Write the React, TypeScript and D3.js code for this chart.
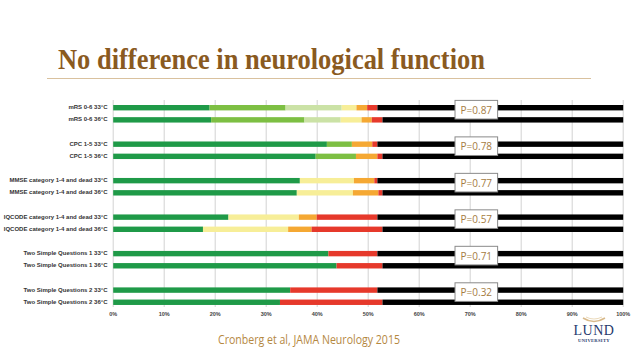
import React from "react";
import * as d3 from "d3";

const rowLabels = [
  "mRS 0-6 33°C",
  "mRS 0-6 36°C",
  "CPC 1-5 33°C",
  "CPC 1-5 36°C",
  "MMSE category 1-4 and dead 33°C",
  "MMSE category 1-4 and dead 36°C",
  "IQCODE category 1-4 and dead 33°C",
  "IQCODE category 1-4 and dead 36°C",
  "Two Simple Questions 1 33°C",
  "Two Simple Questions 1 36°C",
  "Two Simple Questions 2 33°C",
  "Two Simple Questions 2 36°C",
];

// category colour keys per row
const mrsCats = ["dg", "g", "pg", "y", "o", "r", "k"];
const cpcCats = ["dg", "g", "o", "r", "k"];
const mmseCats = ["dg", "y", "o", "r", "k"];
const iqCats = ["dg", "y", "o", "r", "k"];
const tsqCats = ["dg", "r", "k"];

// segment values (percent)
const mrs33 = [18.9, 14.9, 11.0, 2.9, 2.1, 2.0, 48.2];
const mrs36 = [19.2, 18.3, 7.1, 4.1, 2.0, 2.1, 47.2];
const cpc33 = [41.9, 4.9, 4.0, 1.0, 48.2];
const cpc36 = [39.7, 7.9, 4.2, 1.0, 47.2];
const mmse33 = [36.6, 10.6, 4.0, 0.6, 48.2];
const mmse36 = [36.0, 11.0, 5.0, 0.8, 47.2];
const iq33 = [22.6, 13.8, 3.5, 11.9, 48.2];
const iq36 = [17.6, 16.7, 4.6, 13.9, 47.2];
const tsq1_33 = [42.2, 9.6, 48.2];
const tsq1_36 = [43.8, 9.0, 47.2];
const tsq2_33 = [34.7, 17.1, 48.2];
const tsq2_36 = [32.7, 20.1, 47.2];

const rowValues = [mrs33, mrs36, cpc33, cpc36, mmse33, mmse36, iq33, iq36, tsq1_33, tsq1_36, tsq2_33, tsq2_36];
const rowCats = [mrsCats, mrsCats, cpcCats, cpcCats, mmseCats, mmseCats, iqCats, iqCats, tsqCats, tsqCats, tsqCats, tsqCats];

const pValues = ["P=0.87", "P=0.78", "P=0.77", "P=0.57", "P=0.71", "P=0.32"];
const xTicks = [0, 10, 20, 30, 40, 50, 60, 70, 80, 90, 100];

const colors: Record<string, string> = {
  dg: "#1f9a48",
  g: "#7dbf43",
  pg: "#cbe2a6",
  y: "#f7ee98",
  o: "#f5a833",
  r: "#e6392b",
  k: "#000000",
};

export default function App() {
  const W = 638;
  const H = 359;
  const x = d3.scaleLinear().domain([0, 100]).range([113.2, 623.2]);
  const y = d3.scaleLinear().domain([0, 17]).range([107.7, 107.7 + 17 * 12.16]);
  const slot = (i: number) => Math.floor(i / 2) * 3 + (i % 2);
  const barH = 5.4;

  return (
    <svg width={W} height={H} style={{ position: "absolute", left: 0, top: 0, background: "#fff" }}>
      <rect x={0} y={0} width={W} height={H} fill="#fff" />
      <text
        x={58}
        y={69.3}
        fontFamily="Liberation Serif, Times New Roman, serif"
        fontWeight="bold"
        fontSize={28.5}
        fill="#8a5a1f"
        textLength={427}
        lengthAdjust="spacingAndGlyphs"
      >
        No difference in neurological function
      </text>
      <line x1={47} x2={591} y1={78.5} y2={78.5} stroke="#d9c19e" strokeWidth={1.2} />

      {xTicks.map((t) => (
        <line key={"g" + t} x1={x(t)} x2={x(t)} y1={100} y2={307} stroke="#c8c8c8" strokeWidth={0.8} />
      ))}

      {rowValues.map((vals, i) => {
        const cum = [0, ...Array.from(d3.cumsum(vals))];
        const yc = y(slot(i));
        return (
          <g key={"r" + i}>
            {vals.map((v, j) => (
              <rect
                key={j}
                x={x(cum[j])}
                y={yc - barH / 2}
                width={x(cum[j + 1]) - x(cum[j])}
                height={barH}
                fill={colors[rowCats[i][j]]}
              />
            ))}
            <text
              x={107.5}
              y={yc}
              textAnchor="end"
              dominantBaseline="middle"
              fontFamily="Liberation Sans, Arial, sans-serif"
              fontWeight="bold"
              fontSize={6}
              fill="#333"
            >
              {rowLabels[i]}
            </text>
          </g>
        );
      })}

      {pValues.map((p, gi) => {
        const yc = y(gi * 3) + 2;
        const cx = x(71.2);
        return (
          <g key={"p" + gi}>
            <rect x={cx - 21.3} y={yc - 9.3} width={42.6} height={18.6} fill="#fff" stroke="#8a8a8a" strokeWidth={1} />
            <text x={cx} y={yc} textAnchor="middle" dominantBaseline="central" fontFamily="Open Sans, sans-serif" fontSize={10} fill="#a57c3f">
              {p}
            </text>
          </g>
        );
      })}

      {xTicks.map((t) => (
        <text
          key={"t" + t}
          x={x(t)}
          y={314.5}
          textAnchor="middle"
          dominantBaseline="middle"
          fontFamily="Liberation Sans, Arial, sans-serif"
          fontWeight="bold"
          fontSize={5.5}
          fill="#444"
        >
          {t + "%"}
        </text>
      ))}

      <text x={218} y={344} fontFamily="Open Sans, sans-serif" fontSize={12} fill="#b5883f" textLength={182} lengthAdjust="spacingAndGlyphs">
        Cronberg et al, JAMA Neurology 2015
      </text>

      <g>
        <path d="M583,318 Q594,325 605,318" fill="none" stroke="#d8b98a" strokeWidth={1.5} />
        <path d="M586,317 Q594,321 602,317" fill="none" stroke="#e5cfa8" strokeWidth={0.8} />
        <text x={594} y={335} textAnchor="middle" fontFamily="Liberation Serif, serif" fontSize={14} fill="#1f3a6e" letterSpacing={0.5}>
          LUND
        </text>
        <text x={594} y={341.5} textAnchor="middle" fontFamily="Liberation Serif, serif" fontWeight="bold" fontSize={4.6} fill="#1f3a6e" letterSpacing={0.3}>
          UNIVERSITY
        </text>
      </g>
    </svg>
  );
}
